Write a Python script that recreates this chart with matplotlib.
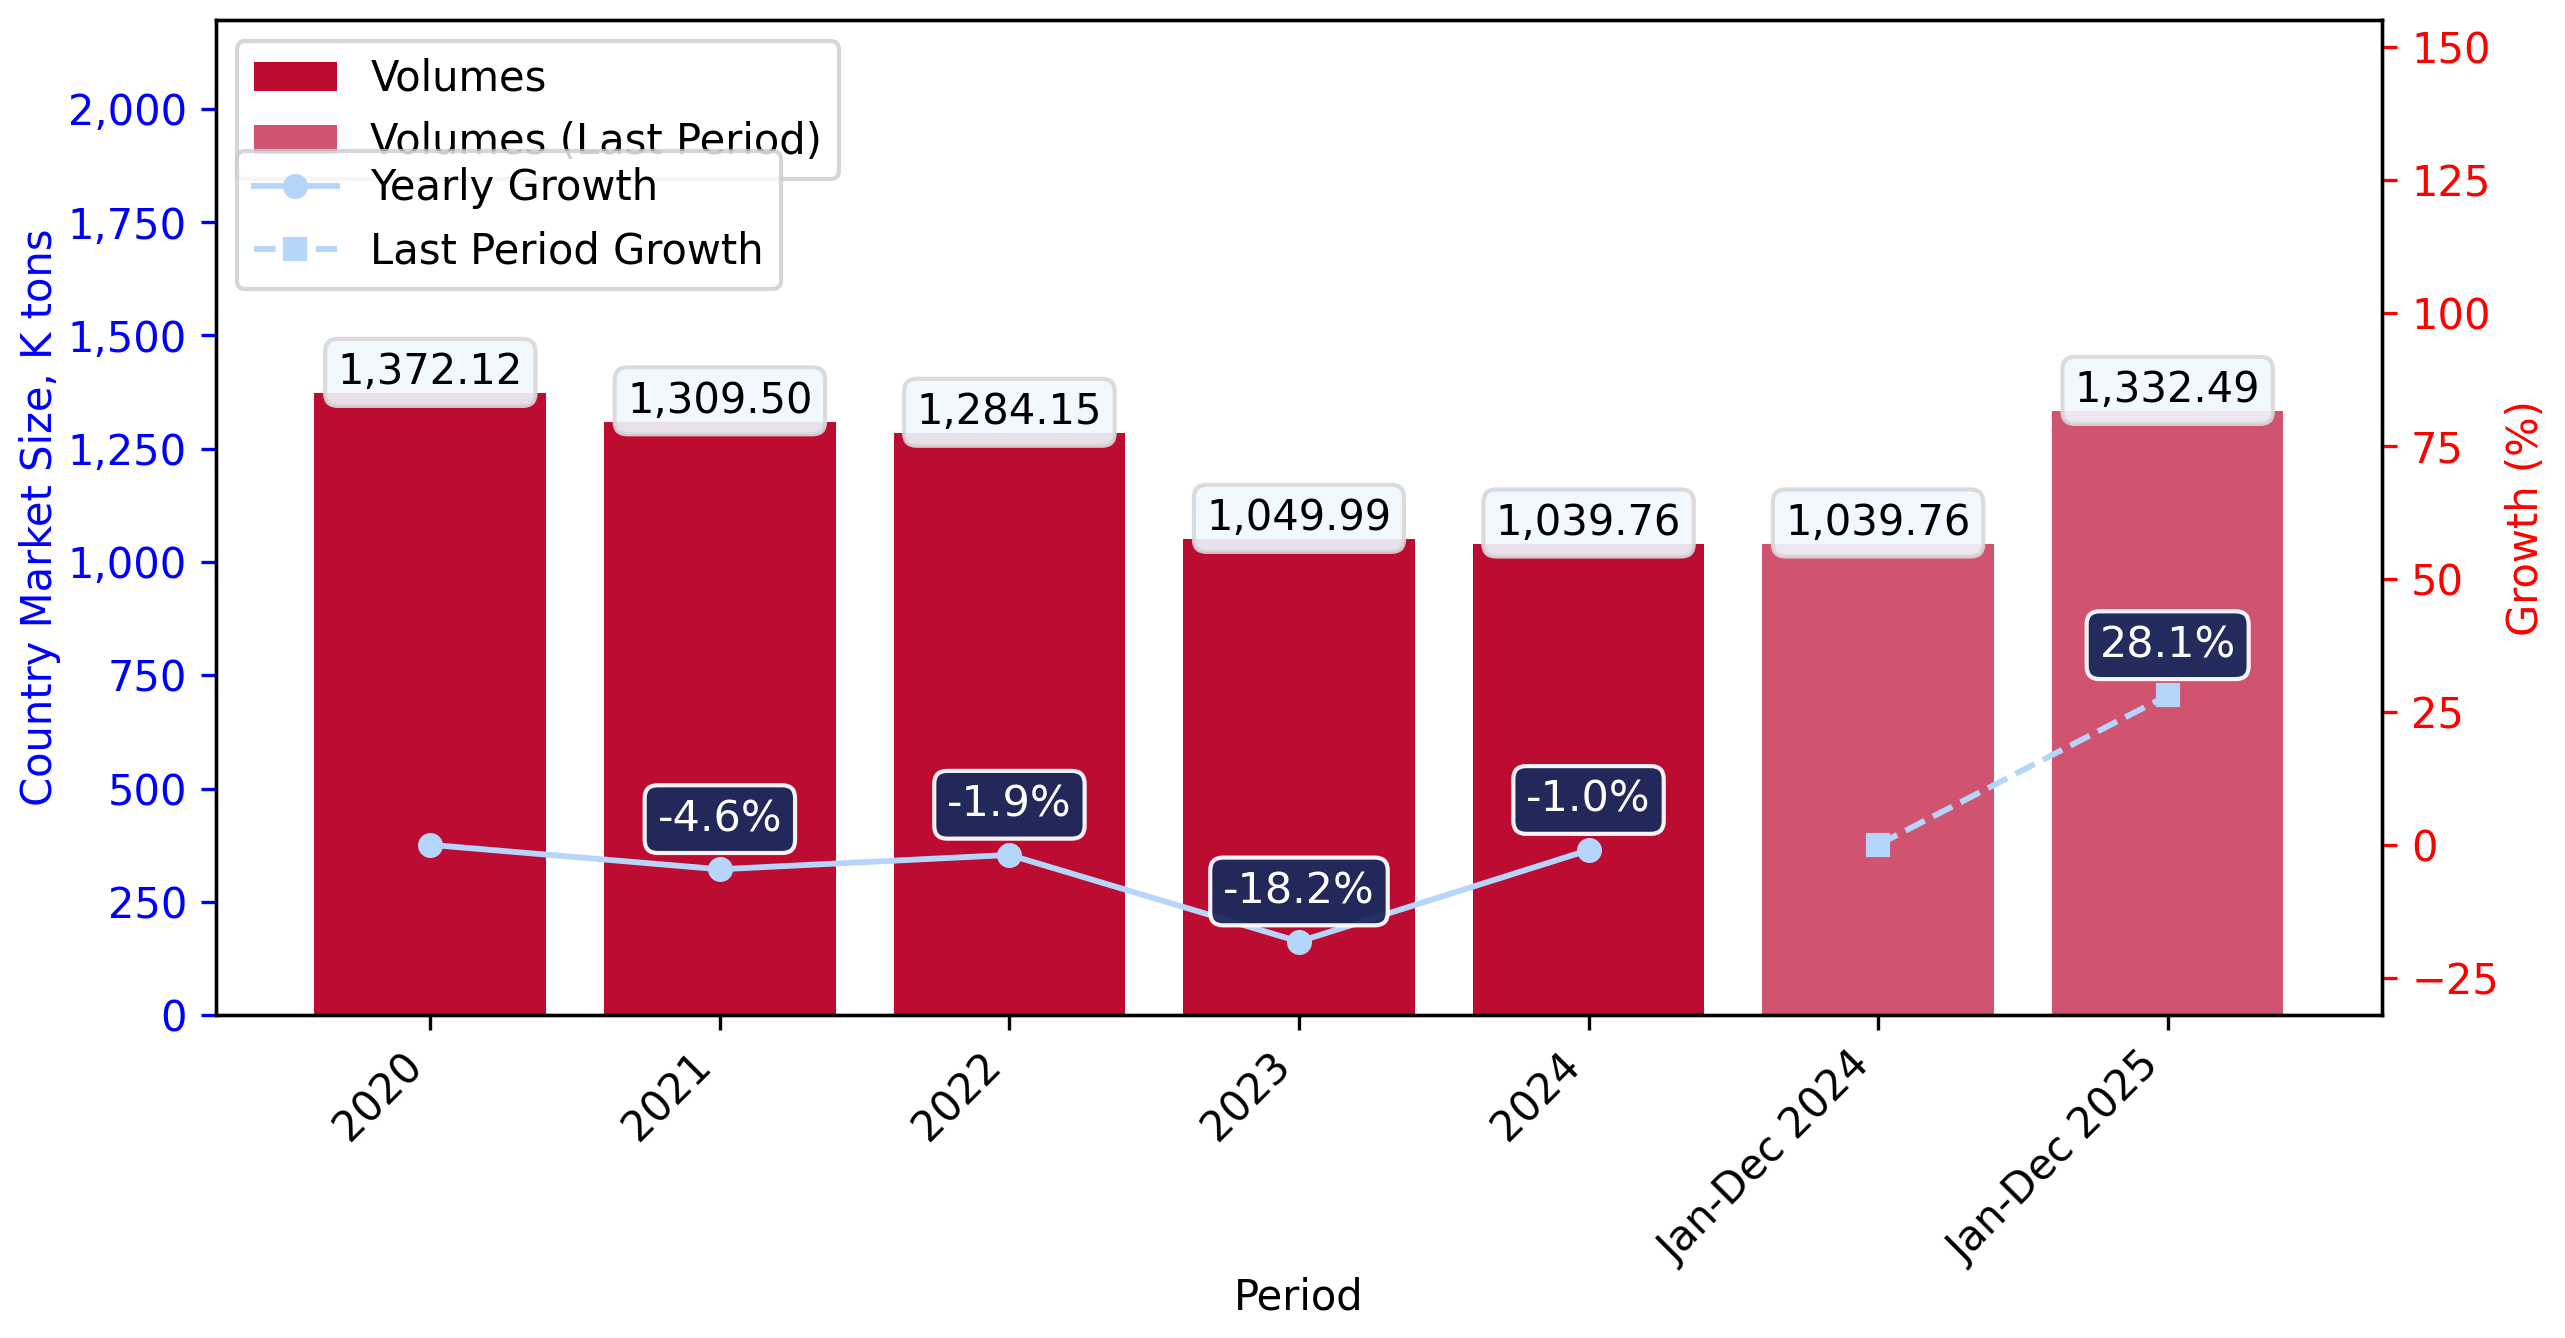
import matplotlib.pyplot as plt
import numpy as np
from matplotlib.ticker import FuncFormatter, MultipleLocator

# data
periods = ["2020", "2021", "2022", "2023", "2024", "Jan-Dec 2024", "Jan-Dec 2025"]
volumes = [1372.12, 1309.50, 1284.15, 1049.99, 1039.76]
last_volumes = [1039.76, 1332.49]
yearly_growth = [0.0, -4.6, -1.9, -18.2, -1.0]
last_growth = [0.0, 28.1]

x_year = np.arange(len(volumes))
x_last = np.arange(len(volumes), len(periods))

bar_color = "#BC0C32"
line_color = "#B5D5FA"

fig = plt.figure(figsize=(8.553, 4.46), dpi=300)
ax = fig.add_axes([0.0842, 0.2414, 0.9283 - 0.0842, 0.9847 - 0.2414])

ax.bar(x_year, volumes, width=0.8, color=bar_color, label="Volumes")
ax.bar(x_last, last_volumes, width=0.8, color=bar_color, alpha=0.7,
       label="Volumes (Last Period)")

vol_box = dict(boxstyle="round,pad=0.3", facecolor="#F0F8FF", edgecolor="#D8D8D8", alpha=0.9)
for xi, v in zip(list(x_year) + list(x_last), volumes + last_volumes):
    ax.text(xi, v, f"{v:,.2f}", ha="center", va="bottom", fontsize=10, bbox=vol_box)

ax.set_ylim(0, max(volumes) * 1.6)
ax.set_xticks(np.arange(len(periods)))
ax.set_xticklabels(periods, rotation=45, ha="right")
ax.yaxis.set_major_formatter(FuncFormatter(lambda v, p: f"{v:,.0f}"))
ax.tick_params(axis="y", colors="blue")
ax.set_ylabel("Country Market Size, K tons", color="blue", labelpad=1.5)
ax.set_xlabel("Period", labelpad=1.2)
ax.legend(loc="upper left")

# growth on second axis
ax2 = ax.twinx()
ax2.plot(x_year, yearly_growth, color=line_color, marker="o", markersize=5,
         lw=1.4, label="Yearly Growth")
ax2.plot(x_last, last_growth, color=line_color, marker="s", markersize=5,
         lw=1.4, ls="--", label="Last Period Growth")

g_box = dict(boxstyle="round,pad=0.3", facecolor="#1B2A5E", edgecolor="white", alpha=0.95)
for xi, g in zip(x_year[1:], yearly_growth[1:]):
    ax2.annotate(f"{g:.1f}%", (xi, g), xytext=(0, 7), textcoords="offset points",
                 ha="center", va="bottom", color="white", fontsize=10.3, bbox=g_box)
ax2.annotate(f"{last_growth[1]:.1f}%", (x_last[1], last_growth[1]), xytext=(0, 7),
             textcoords="offset points", ha="center", va="bottom", color="white",
             fontsize=10.3, bbox=g_box)

ax2.set_ylim(-32, 155)
ax2.yaxis.set_major_locator(MultipleLocator(25))
ax2.tick_params(axis="y", colors="red")
ax2.set_ylabel("Growth (%)", color="red", labelpad=1.5)
ax2.legend(loc="upper left", bbox_to_anchor=(0, 0.89))

fig.savefig("out.png", dpi=300)
